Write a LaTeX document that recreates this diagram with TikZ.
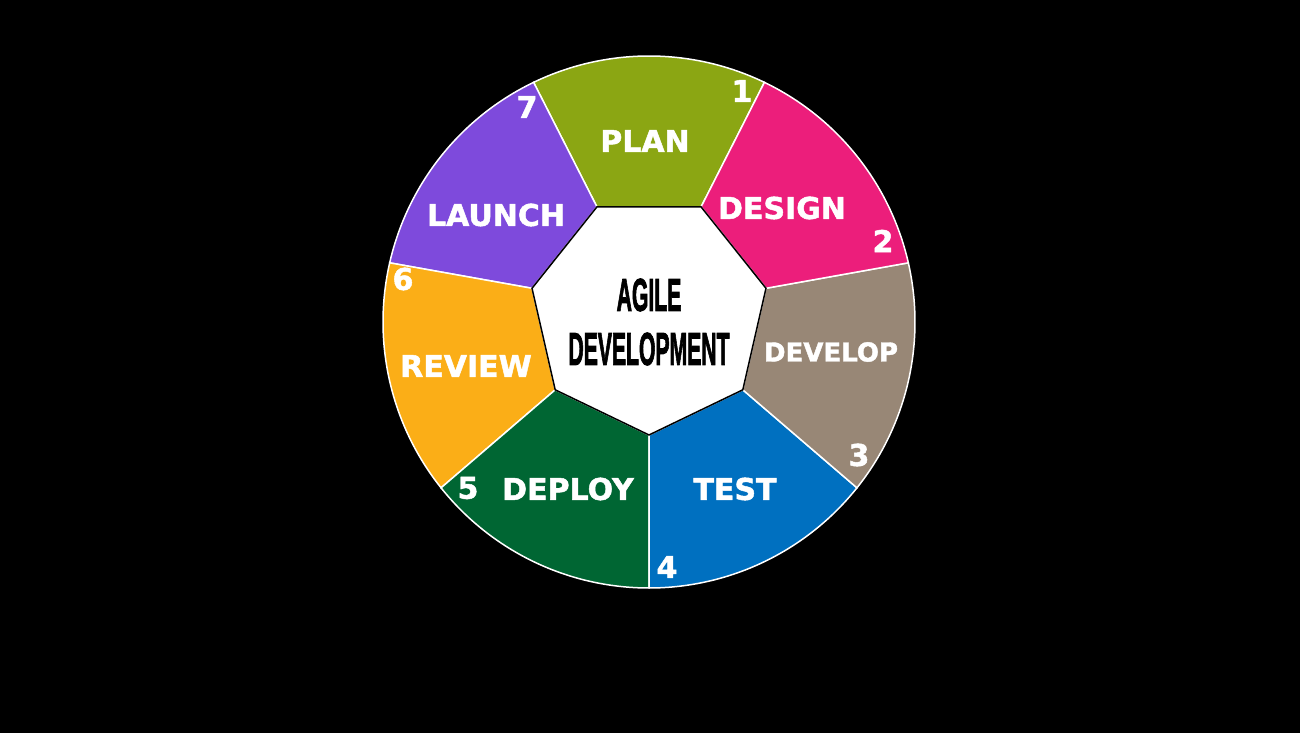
\documentclass[tikz,border=0pt]{standalone}
\usepackage{fontspec}
\setmainfont{DejaVu Sans}[BoldFeatures={FakeBold=1.6}]
\newfontfamily\hubfont{Liberation Sans}[BoldFeatures={FakeBold=2.5}]
\usepackage{graphicx}
\usepackage{xcolor}
\usetikzlibrary{calc}
\definecolor{plancol}{RGB}{139,166,19}
\definecolor{designcol}{RGB}{236,30,123}
\definecolor{developcol}{RGB}{152,135,118}
\definecolor{testcol}{RGB}{0,112,192}
\definecolor{deploycol}{RGB}{0,102,51}
\definecolor{reviewcol}{RGB}{251,174,23}
\definecolor{launchcol}{RGB}{126,74,220}
\newcommand{\rwheel}{266}
\newcommand{\rhub}{120}
\newcommand{\hubword}[1]{\scalebox{0.46}[1]{\hubfont\bfseries\fontsize{46}{54}\selectfont #1}}

\begin{document}
\begin{tikzpicture}[x=1pt,y=1pt,
  phase/.style={text=white, font=\bfseries\fontsize{30}{30}\selectfont},
  stepnum/.style={text=white, font=\bfseries\fontsize{30}{30}\selectfont}]
% background
\fill[black] (0,0) rectangle (1300,733);
\useasboundingbox (0,0) rectangle (1300,733);

% centres
\coordinate (wheel) at (649,411);
\coordinate (hubc) at (649,418);

% corners of the hub and ends of the spokes
\foreach \i in {0,...,7} {
  \pgfmathsetmacro{\a}{64.2857+51.4286*\i}
  \coordinate (h\i) at ($(hubc)+(\a:\rhub)$);
  \coordinate (r\i) at ($(wheel)+(\a:\rwheel)$);
}

% segments
\foreach \col [count=\i from 0] in {plancol,launchcol,reviewcol,deploycol,testcol,developcol,designcol} {
  \pgfmathsetmacro{\a}{64.2857+51.4286*\i}
  \pgfmathsetmacro{\b}{\a+51.4286}
  \pgfmathtruncatemacro{\j}{\i+1}
  \filldraw[fill=\col, draw=white, line width=1.5pt]
    (h\i) -- (r\i) arc[start angle=\a, end angle=\b, radius=\rwheel] -- (h\j) -- cycle;
}

% hub
\filldraw[fill=white, draw=black, line width=1.5pt]
  (h0) -- (h1) -- (h2) -- (h3) -- (h4) -- (h5) -- (h6) -- cycle;
\node (agile) at (649,438) {\hubword{AGILE}};
\node (agiledev) at (649,384) {\hubword{DEVELOPMENT}};

% phases
\node[phase] (plan) at (645,592) {PLAN};
\node[phase] (design) at (782,525) {DESIGN};
\node[phase, font=\bfseries\fontsize{26}{26}\selectfont] (develop) at (831,381) {DEVELOP};
\node[phase] (test) at (735,244) {TEST};
\node[phase] (deploy) at (568,244) {DEPLOY};
\node[phase] (review) at (466,367) {REVIEW};
\node[phase] (launch) at (496,518) {LAUNCH};

% numbers
\node[stepnum] (n1) at (742,642) {1};
\node[stepnum] (n2) at (883,492) {2};
\node[stepnum] (n3) at (859,278) {3};
\node[stepnum] (n4) at (667,166) {4};
\node[stepnum] (n5) at (468,245) {5};
\node[stepnum] (n6) at (403,454) {6};
\node[stepnum] (n7) at (527,626) {7};
\end{tikzpicture}
\end{document}
